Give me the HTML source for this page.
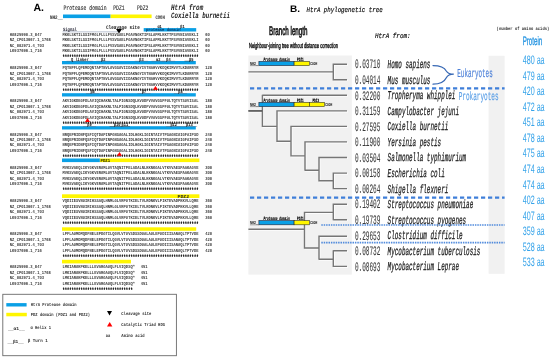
<!DOCTYPE html>
<html lang="en"><head><meta charset="utf-8"><title>HtrA alignment and phylogenetic tree</title><style>
html,body{margin:0;padding:0;background:#fff}
body{width:550px;height:360px;position:relative;overflow:hidden}
#fig{position:absolute;left:0;top:0;width:550px;height:360px;filter:blur(0.35px)}
.t{position:absolute;left:0;top:0;white-space:pre;line-height:1;transform-origin:0 0;display:block;text-rendering:geometricPrecision}
.m{font-family:"Liberation Mono",monospace}
.s{font-family:"Liberation Sans",sans-serif}
.r0{font-family:"Liberation Serif",serif}
.b{font-weight:bold}
.i{font-style:italic}
.r{position:absolute}
.a{position:absolute;overflow:visible}
</style></head><body>
<div id="fig"><svg class="a" style="left:0;top:0" width="550" height="360" viewBox="0 0 550 360"><rect x="63.00" y="14.50" width="47.60" height="3.60" fill="#0aa0e6"/><rect x="110.60" y="14.50" width="41.00" height="3.60" fill="#fff600"/><rect x="62.50" y="31.60" width="55.50" height="0.60" fill="#8f9bb5"/><rect x="143.70" y="28.10" width="52.50" height="3.40" fill="#0aa0e6"/><rect x="62.00" y="61.00" width="133.80" height="3.30" fill="#0aa0e6"/><rect x="66.50" y="60.90" width="26.60" height="0.40" fill="#667"/><rect x="96.50" y="60.90" width="13.40" height="0.40" fill="#667"/><rect x="134.70" y="60.90" width="13.40" height="0.40" fill="#667"/><rect x="151.50" y="60.90" width="13.40" height="0.40" fill="#667"/><rect x="161.80" y="60.90" width="13.40" height="0.40" fill="#667"/><rect x="184.50" y="60.80" width="9.00" height="0.50" fill="#444"/><rect x="62.00" y="93.20" width="133.80" height="3.30" fill="#0aa0e6"/><rect x="85.90" y="93.10" width="13.40" height="0.40" fill="#667"/><rect x="137.30" y="93.10" width="13.40" height="0.40" fill="#667"/><rect x="173.70" y="93.10" width="13.40" height="0.40" fill="#667"/><rect x="62.00" y="126.20" width="133.80" height="3.30" fill="#0aa0e6"/><rect x="82.80" y="126.10" width="13.40" height="0.40" fill="#667"/><rect x="165.90" y="126.10" width="15.60" height="0.40" fill="#667"/><rect x="181.50" y="126.10" width="15.60" height="0.40" fill="#667"/><rect x="109.50" y="126.40" width="20.50" height="0.50" fill="#444"/><rect x="62.00" y="158.50" width="37.90" height="3.60" fill="#0aa0e6"/><rect x="99.90" y="158.50" width="99.50" height="3.60" fill="#fff600"/><rect x="62.00" y="194.30" width="137.40" height="3.70" fill="#fff600"/><rect x="62.00" y="227.30" width="134.20" height="3.50" fill="#fff600"/><rect x="62.00" y="259.80" width="69.00" height="3.60" fill="#fff600"/><rect x="2.8" y="294.3" width="173.6" height="61.4" fill="none" stroke="#6a6a6a" stroke-width="0.9"/><rect x="6.30" y="303.10" width="20.30" height="3.40" fill="#0aa0e6"/><rect x="6.30" y="312.80" width="20.50" height="3.50" fill="#fff600"/><rect x="248.40" y="55.50" width="103.40" height="219.10" fill="#f1f1f1"/><rect x="488.60" y="55.80" width="16.00" height="218.00" fill="#f1f1f1"/></svg>
<span class="t s b" style="font-size:42px;transform:translate(33.50px,2.46px) scale(0.2500,0.2500);color:#000;">A.</span>
<span class="t m" style="font-size:27.2px;transform:translate(63.50px,5.14px) scale(0.1758,0.2500);color:#1a1a1a;-webkit-text-stroke:0.32px #1a1a1a;">Protease domain</span>
<span class="t m" style="font-size:27.2px;transform:translate(113.20px,5.14px) scale(0.1758,0.2500);color:#1a1a1a;-webkit-text-stroke:0.32px #1a1a1a;">PDZ1</span>
<span class="t m" style="font-size:27.2px;transform:translate(137.00px,5.14px) scale(0.1758,0.2500);color:#1a1a1a;-webkit-text-stroke:0.32px #1a1a1a;">PDZ2</span>
<span class="t m b" style="font-size:21.6px;transform:translate(50.00px,15.21px) scale(0.1967,0.2500);color:#222;">NH2__</span>
<span class="t m b" style="font-size:21.6px;transform:translate(155.50px,15.21px) scale(0.1774,0.2500);color:#222;">COOH</span>
<span class="t m b i" style="font-size:32.8px;transform:translate(171.00px,4.07px) scale(0.1819,0.2500);color:#1a1a1a;">HtrA from</span>
<span class="t m b i" style="font-size:32.8px;transform:translate(171.00px,12.07px) scale(0.1763,0.2500);color:#1a1a1a;">Coxiella burnetii</span>
<span class="t m b" style="font-size:21.6px;transform:translate(106.00px,25.21px) scale(0.2006,0.2500);color:#222;">Cleavage site</span>
<span class="t m b" style="font-size:18.4px;transform:translate(9.80px,32.83px) scale(0.2065,0.2500);color:#404040;">HG825990.3_847</span>
<span class="t m b" style="font-size:18.4px;transform:translate(62.40px,32.83px) scale(0.2054,0.2500);color:#404040;">MKKLSKTILSSIFMGLFLLLFVSVSAELPGAVNGKTIPSLAPMLKKTTPSVVNIAVEKLI</span>
<span class="t m b" style="font-size:18.4px;transform:translate(205.30px,32.83px) scale(0.2065,0.2500);color:#404040;">60</span>
<span class="t m b" style="font-size:18.4px;transform:translate(9.80px,37.83px) scale(0.2065,0.2500);color:#404040;">NZ_CP013667.1_1768</span>
<span class="t m b" style="font-size:18.4px;transform:translate(62.40px,37.83px) scale(0.2054,0.2500);color:#404040;">MKKLSKTILSSIFMGLFLLLFVSVSAELPGAVNGKTIPSLAPMLKKTTPSVVNIAVEKLI</span>
<span class="t m b" style="font-size:18.4px;transform:translate(205.30px,37.83px) scale(0.2065,0.2500);color:#404040;">60</span>
<span class="t m b" style="font-size:18.4px;transform:translate(9.80px,43.83px) scale(0.2065,0.2500);color:#404040;">NC_002971.4_703</span>
<span class="t m b" style="font-size:18.4px;transform:translate(62.40px,43.83px) scale(0.2054,0.2500);color:#404040;">MKKLSKTILSSIFMGLFLLLFVSVSAELPGAVNGKTIPSLAPMLKKTTPSVVNIAVEKLI</span>
<span class="t m b" style="font-size:18.4px;transform:translate(205.30px,43.83px) scale(0.2065,0.2500);color:#404040;">60</span>
<span class="t m b" style="font-size:18.4px;transform:translate(9.80px,48.83px) scale(0.2065,0.2500);color:#404040;">LK937696.1_716</span>
<span class="t m b" style="font-size:18.4px;transform:translate(62.40px,48.83px) scale(0.2054,0.2500);color:#404040;">MKKLSKTILSSIFMGLFLLLFVSVSAELPGAVNGKTIPSLAPMLKKTTPSVVNIAVEKLI</span>
<span class="t m b" style="font-size:18.4px;transform:translate(205.30px,48.83px) scale(0.2065,0.2500);color:#404040;">60</span>
<span class="t m b" style="font-size:25.6px;transform:translate(62.40px,54.45px) scale(0.1476,0.2500);color:#000;-webkit-text-stroke:0.88px #000;">************************************************************</span>
<span class="t m b" style="font-size:18.4px;transform:translate(9.80px,65.83px) scale(0.2065,0.2500);color:#404040;">HG825990.3_847</span>
<span class="t m b" style="font-size:18.4px;transform:translate(62.40px,65.83px) scale(0.2054,0.2500);color:#404040;">PQTNPFLQPEMDQNTAPTNVLGVGSGVIIDAKNGYIVTNAHVVKDQKIMVVTLKDGRRYR</span>
<span class="t m b" style="font-size:18.4px;transform:translate(205.30px,65.83px) scale(0.2065,0.2500);color:#404040;">120</span>
<span class="t m b" style="font-size:18.4px;transform:translate(9.80px,71.83px) scale(0.2065,0.2500);color:#404040;">NZ_CP013667.1_1768</span>
<span class="t m b" style="font-size:18.4px;transform:translate(62.40px,71.83px) scale(0.2054,0.2500);color:#404040;">PQTNPFLQPEMDQNTAPTNVLGVGSGVIIDAKNGYIVTNAHVVKDQKIMVVTLKDGRRYR</span>
<span class="t m b" style="font-size:18.4px;transform:translate(205.30px,71.83px) scale(0.2065,0.2500);color:#404040;">120</span>
<span class="t m b" style="font-size:18.4px;transform:translate(9.80px,76.83px) scale(0.2065,0.2500);color:#404040;">NC_002971.4_703</span>
<span class="t m b" style="font-size:18.4px;transform:translate(62.40px,76.83px) scale(0.2054,0.2500);color:#404040;">PQTNPFLQPEMDQNTAPTNVLGVGSGVIIDAKNGYIVTNAHVVKDQKIMVVTLKDGRRYR</span>
<span class="t m b" style="font-size:18.4px;transform:translate(205.30px,76.83px) scale(0.2065,0.2500);color:#404040;">120</span>
<span class="t m b" style="font-size:18.4px;transform:translate(9.80px,82.83px) scale(0.2065,0.2500);color:#404040;">LK937696.1_716</span>
<span class="t m b" style="font-size:18.4px;transform:translate(62.40px,82.83px) scale(0.2054,0.2500);color:#404040;">PQTNPFLQPEMDQNTAPTNVLGVGSGVIIDAKNGYIVTNAHVVKDQKIMVVTLKDGRRYR</span>
<span class="t m b" style="font-size:18.4px;transform:translate(205.30px,82.83px) scale(0.2065,0.2500);color:#404040;">120</span>
<span class="t m b" style="font-size:25.6px;transform:translate(62.40px,88.45px) scale(0.1476,0.2500);color:#000;-webkit-text-stroke:0.88px #000;">************************************************************</span>
<span class="t m b" style="font-size:18.4px;transform:translate(9.80px,98.83px) scale(0.2065,0.2500);color:#404040;">HG825990.3_847</span>
<span class="t m b" style="font-size:18.4px;transform:translate(62.40px,98.83px) scale(0.2054,0.2500);color:#404040;">AKVIGKDEGFDLAVIQIHAKNLTALPIGNSDQLKVGDFVVAVGSPFGLTQTVTSGVISAL</span>
<span class="t m b" style="font-size:18.4px;transform:translate(205.30px,98.83px) scale(0.2065,0.2500);color:#404040;">180</span>
<span class="t m b" style="font-size:18.4px;transform:translate(9.80px,104.83px) scale(0.2065,0.2500);color:#404040;">NZ_CP013667.1_1768</span>
<span class="t m b" style="font-size:18.4px;transform:translate(62.40px,104.83px) scale(0.2054,0.2500);color:#404040;">AKVIGKDEGFDLAVIQIHAKNLTALPIGNSDQLKVGDFVVAVGSPFGLTQTVTSGVISAL</span>
<span class="t m b" style="font-size:18.4px;transform:translate(205.30px,104.83px) scale(0.2065,0.2500);color:#404040;">180</span>
<span class="t m b" style="font-size:18.4px;transform:translate(9.80px,109.83px) scale(0.2065,0.2500);color:#404040;">NC_002971.4_703</span>
<span class="t m b" style="font-size:18.4px;transform:translate(62.40px,109.83px) scale(0.2054,0.2500);color:#404040;">AKVIGKDEGFDLAVIQIHAKNLTALPIGNSDQLKVGDFVVAVGSPFGLTQTVTSGVISAL</span>
<span class="t m b" style="font-size:18.4px;transform:translate(205.30px,109.83px) scale(0.2065,0.2500);color:#404040;">180</span>
<span class="t m b" style="font-size:18.4px;transform:translate(9.80px,115.83px) scale(0.2065,0.2500);color:#404040;">LK937696.1_716</span>
<span class="t m b" style="font-size:18.4px;transform:translate(62.40px,115.83px) scale(0.2054,0.2500);color:#404040;">AKVIGKDEGFDLAVIQIHAKNLTALPIGNSDQLKVGDFVVAVGSPFGLTQTVTSGVISAL</span>
<span class="t m b" style="font-size:18.4px;transform:translate(205.30px,115.83px) scale(0.2065,0.2500);color:#404040;">180</span>
<span class="t m b" style="font-size:25.6px;transform:translate(62.40px,121.45px) scale(0.1476,0.2500);color:#000;-webkit-text-stroke:0.88px #000;">************************************************************</span>
<span class="t m b" style="font-size:18.4px;transform:translate(9.80px,132.83px) scale(0.2065,0.2500);color:#404040;">HG825990.3_847</span>
<span class="t m b" style="font-size:18.4px;transform:translate(62.40px,132.83px) scale(0.2054,0.2500);color:#404040;">NRQEPRIDNFQSFIQTDAPINPGNSGGALIDLHGKLIGINTAIVTPSAGNIGIGFAIPSD</span>
<span class="t m b" style="font-size:18.4px;transform:translate(205.30px,132.83px) scale(0.2065,0.2500);color:#404040;">240</span>
<span class="t m b" style="font-size:18.4px;transform:translate(9.80px,137.83px) scale(0.2065,0.2500);color:#404040;">NZ_CP013667.1_1768</span>
<span class="t m b" style="font-size:18.4px;transform:translate(62.40px,137.83px) scale(0.2054,0.2500);color:#404040;">NRQEPRIDNFQSFIQTDAPINPGNSGGALIDLHGKLIGINTAIVTPSAGNIGIGFAIPSD</span>
<span class="t m b" style="font-size:18.4px;transform:translate(205.30px,137.83px) scale(0.2065,0.2500);color:#404040;">240</span>
<span class="t m b" style="font-size:18.4px;transform:translate(9.80px,142.83px) scale(0.2065,0.2500);color:#404040;">NC_002971.4_703</span>
<span class="t m b" style="font-size:18.4px;transform:translate(62.40px,142.83px) scale(0.2054,0.2500);color:#404040;">NRQEPRIDNFQSFIQTDAPINPGNSGGALIDLHGKLIGINTAIVTPSAGNIGIGFAIPSD</span>
<span class="t m b" style="font-size:18.4px;transform:translate(205.30px,142.83px) scale(0.2065,0.2500);color:#404040;">240</span>
<span class="t m b" style="font-size:18.4px;transform:translate(9.80px,148.83px) scale(0.2065,0.2500);color:#404040;">LK937696.1_716</span>
<span class="t m b" style="font-size:18.4px;transform:translate(62.40px,148.83px) scale(0.2054,0.2500);color:#404040;">NRQEPRIDNFQSFIQTDAPINPGNSGGALIDLHGKLIGINTAIVTPSAGNIGIGFAIPSD</span>
<span class="t m b" style="font-size:18.4px;transform:translate(205.30px,148.83px) scale(0.2065,0.2500);color:#404040;">240</span>
<span class="t m b" style="font-size:25.6px;transform:translate(62.40px,154.45px) scale(0.1476,0.2500);color:#000;-webkit-text-stroke:0.88px #000;">************************************************************</span>
<span class="t m b" style="font-size:18.4px;transform:translate(9.80px,165.83px) scale(0.2065,0.2500);color:#404040;">HG825990.3_847</span>
<span class="t m b" style="font-size:18.4px;transform:translate(62.40px,165.83px) scale(0.2054,0.2500);color:#404040;">MVKSVAEQLIKYGKVERGMLGVTAQNITPELADALNLKKNKGALVTKVVAESPAAKAGVE</span>
<span class="t m b" style="font-size:18.4px;transform:translate(205.30px,165.83px) scale(0.2065,0.2500);color:#404040;">300</span>
<span class="t m b" style="font-size:18.4px;transform:translate(9.80px,170.83px) scale(0.2065,0.2500);color:#404040;">NZ_CP013667.1_1768</span>
<span class="t m b" style="font-size:18.4px;transform:translate(62.40px,170.83px) scale(0.2054,0.2500);color:#404040;">MVKSVAEQLIKYGKVERGMLGVTAQNITPELADALNLKKNKGALVTKVVAESPAAKAGVE</span>
<span class="t m b" style="font-size:18.4px;transform:translate(205.30px,170.83px) scale(0.2065,0.2500);color:#404040;">300</span>
<span class="t m b" style="font-size:18.4px;transform:translate(9.80px,176.83px) scale(0.2065,0.2500);color:#404040;">NC_002971.4_703</span>
<span class="t m b" style="font-size:18.4px;transform:translate(62.40px,176.83px) scale(0.2054,0.2500);color:#404040;">MVKSVAEQLIKYGKVERGMLGVTAQNITPELADALNLKKNKGALVTKVVAESPAAKAGVE</span>
<span class="t m b" style="font-size:18.4px;transform:translate(205.30px,176.83px) scale(0.2065,0.2500);color:#404040;">300</span>
<span class="t m b" style="font-size:18.4px;transform:translate(9.80px,181.83px) scale(0.2065,0.2500);color:#404040;">LK937696.1_716</span>
<span class="t m b" style="font-size:18.4px;transform:translate(62.40px,181.83px) scale(0.2054,0.2500);color:#404040;">MVKSVAEQLIKYGKVERGMLGVTAQNITPELADALNLKKNKGALVTKVVAESPAAKAGVE</span>
<span class="t m b" style="font-size:18.4px;transform:translate(205.30px,181.83px) scale(0.2065,0.2500);color:#404040;">300</span>
<span class="t m b" style="font-size:25.6px;transform:translate(62.40px,187.45px) scale(0.1476,0.2500);color:#000;-webkit-text-stroke:0.88px #000;">************************************************************</span>
<span class="t m b" style="font-size:18.4px;transform:translate(9.80px,198.83px) scale(0.2065,0.2500);color:#404040;">HG825990.3_847</span>
<span class="t m b" style="font-size:18.4px;transform:translate(62.40px,198.83px) scale(0.2054,0.2500);color:#404040;">VQDIIESVNGIRIHSSAQLHNMLGLVRPGTKIELTVLRDNKVLPIKTEVADPKKVLLQRE</span>
<span class="t m b" style="font-size:18.4px;transform:translate(205.30px,198.83px) scale(0.2065,0.2500);color:#404040;">360</span>
<span class="t m b" style="font-size:18.4px;transform:translate(9.80px,204.83px) scale(0.2065,0.2500);color:#404040;">NZ_CP013667.1_1768</span>
<span class="t m b" style="font-size:18.4px;transform:translate(62.40px,204.83px) scale(0.2054,0.2500);color:#404040;">VQDIIESVNGIRIHSSAQLHNMLGLVRPGTKIELTVLRDNKVLPIKTEVADPKKVLLQRE</span>
<span class="t m b" style="font-size:18.4px;transform:translate(205.30px,204.83px) scale(0.2065,0.2500);color:#404040;">360</span>
<span class="t m b" style="font-size:18.4px;transform:translate(9.80px,209.83px) scale(0.2065,0.2500);color:#404040;">NC_002971.4_703</span>
<span class="t m b" style="font-size:18.4px;transform:translate(62.40px,209.83px) scale(0.2054,0.2500);color:#404040;">VQDIIESVNGIRIHSSAQLHNMLGLVRPGTKIELTVLRDNKVLPIKTEVADPKKVLLQRE</span>
<span class="t m b" style="font-size:18.4px;transform:translate(205.30px,209.83px) scale(0.2065,0.2500);color:#404040;">360</span>
<span class="t m b" style="font-size:18.4px;transform:translate(9.80px,215.83px) scale(0.2065,0.2500);color:#404040;">LK937696.1_716</span>
<span class="t m b" style="font-size:18.4px;transform:translate(62.40px,215.83px) scale(0.2054,0.2500);color:#404040;">VQDIIESVNGIRIHSSAQLHNMLGLVRPGTKIELTVLRDNKVLPIKTEVADPKKVLLQRE</span>
<span class="t m b" style="font-size:18.4px;transform:translate(205.30px,215.83px) scale(0.2065,0.2500);color:#404040;">360</span>
<span class="t m b" style="font-size:25.6px;transform:translate(62.40px,221.45px) scale(0.1476,0.2500);color:#000;-webkit-text-stroke:0.88px #000;">************************************************************</span>
<span class="t m b" style="font-size:18.4px;transform:translate(9.80px,231.83px) scale(0.2065,0.2500);color:#404040;">HG825990.3_847</span>
<span class="t m b" style="font-size:18.4px;transform:translate(62.40px,231.83px) scale(0.2054,0.2500);color:#404040;">LPFLAGMDMQDFNELEPDGTILQGVLVTGVSDSSDGALAGLEPGDIIISANGQLTPTVDE</span>
<span class="t m b" style="font-size:18.4px;transform:translate(205.30px,231.83px) scale(0.2065,0.2500);color:#404040;">420</span>
<span class="t m b" style="font-size:18.4px;transform:translate(9.80px,237.83px) scale(0.2065,0.2500);color:#404040;">NZ_CP013667.1_1768</span>
<span class="t m b" style="font-size:18.4px;transform:translate(62.40px,237.83px) scale(0.2054,0.2500);color:#404040;">LPFLAGMDMQDFNELEPDGTILQGVLVTGVSDSSDGALAGLEPGDIIISANGQLTPTVDE</span>
<span class="t m b" style="font-size:18.4px;transform:translate(205.30px,237.83px) scale(0.2065,0.2500);color:#404040;">420</span>
<span class="t m b" style="font-size:18.4px;transform:translate(9.80px,242.83px) scale(0.2065,0.2500);color:#404040;">NC_002971.4_703</span>
<span class="t m b" style="font-size:18.4px;transform:translate(62.40px,242.83px) scale(0.2054,0.2500);color:#404040;">LPFLAGMDMQDFNELEPDGTILQGVLVTGVSDSSDGALAGLEPGDIIISANGQLTPTVDE</span>
<span class="t m b" style="font-size:18.4px;transform:translate(205.30px,242.83px) scale(0.2065,0.2500);color:#404040;">420</span>
<span class="t m b" style="font-size:18.4px;transform:translate(9.80px,248.83px) scale(0.2065,0.2500);color:#404040;">LK937696.1_716</span>
<span class="t m b" style="font-size:18.4px;transform:translate(62.40px,248.83px) scale(0.2054,0.2500);color:#404040;">LPFLAGMDMQDFNELEPDGTILQGVLVTGVSDSSDGALAGLEPGDIIISANGQLTPTVDE</span>
<span class="t m b" style="font-size:18.4px;transform:translate(205.30px,248.83px) scale(0.2065,0.2500);color:#404040;">420</span>
<span class="t m b" style="font-size:25.6px;transform:translate(62.40px,254.45px) scale(0.1476,0.2500);color:#000;-webkit-text-stroke:0.88px #000;">************************************************************</span>
<span class="t m b" style="font-size:18.4px;transform:translate(9.80px,264.83px) scale(0.2065,0.2500);color:#404040;">HG825990.3_847</span>
<span class="t m b" style="font-size:18.4px;transform:translate(62.40px,264.83px) scale(0.2054,0.2500);color:#404040;">LMKIARGKPKELLLEVARGAGQLFLVIQDSQ*</span>
<span class="t m b" style="font-size:18.4px;transform:translate(140.80px,264.83px) scale(0.2065,0.2500);color:#404040;">451</span>
<span class="t m b" style="font-size:18.4px;transform:translate(9.80px,270.83px) scale(0.2065,0.2500);color:#404040;">NZ_CP013667.1_1768</span>
<span class="t m b" style="font-size:18.4px;transform:translate(62.40px,270.83px) scale(0.2054,0.2500);color:#404040;">LMKIARGKPKELLLEVARGAGQLFLVIQDSQ*</span>
<span class="t m b" style="font-size:18.4px;transform:translate(140.80px,270.83px) scale(0.2065,0.2500);color:#404040;">451</span>
<span class="t m b" style="font-size:18.4px;transform:translate(9.80px,275.83px) scale(0.2065,0.2500);color:#404040;">NC_002971.4_703</span>
<span class="t m b" style="font-size:18.4px;transform:translate(62.40px,275.83px) scale(0.2054,0.2500);color:#404040;">LMKIARGKPKELLLEVARGAGQLFLVIQDSQ*</span>
<span class="t m b" style="font-size:18.4px;transform:translate(140.80px,275.83px) scale(0.2065,0.2500);color:#404040;">451</span>
<span class="t m b" style="font-size:18.4px;transform:translate(9.80px,281.83px) scale(0.2065,0.2500);color:#404040;">LK937696.1_716</span>
<span class="t m b" style="font-size:18.4px;transform:translate(62.40px,281.83px) scale(0.2054,0.2500);color:#404040;">LMKIARGKPKELLLEVARGAGQLFLVIQDSQ*</span>
<span class="t m b" style="font-size:18.4px;transform:translate(140.80px,281.83px) scale(0.2065,0.2500);color:#404040;">451</span>
<span class="t m b" style="font-size:25.6px;transform:translate(62.40px,287.45px) scale(0.1476,0.2500);color:#000;-webkit-text-stroke:0.88px #000;">*******************************</span>
<span class="t m b" style="font-size:20px;transform:translate(63.00px,27.52px) scale(0.1916,0.2500);color:#223;">Signal</span>
<span class="t m b" style="font-size:18.4px;transform:translate(157.40px,24.83px) scale(0.1992,0.2500);color:#111;">α1</span>
<span class="t m b" style="font-size:18.4px;transform:translate(180.20px,24.83px) scale(0.1992,0.2500);color:#111;">β1</span>
<span class="t m b" style="font-size:17.6px;transform:translate(146.00px,27.98px) scale(0.2178,0.2500);color:#123a66;">protease domain</span>
<span class="t m b" style="font-size:18.4px;transform:translate(71.00px,57.83px) scale(0.1992,0.2500);color:#111;">Q linker</span>
<span class="t m b" style="font-size:18.4px;transform:translate(101.00px,57.83px) scale(0.1992,0.2500);color:#111;">β2</span>
<span class="t m b" style="font-size:18.4px;transform:translate(139.20px,57.83px) scale(0.1992,0.2500);color:#111;">β3</span>
<span class="t m b" style="font-size:18.4px;transform:translate(156.00px,57.83px) scale(0.1992,0.2500);color:#111;">α2</span>
<span class="t m b" style="font-size:18.4px;transform:translate(166.30px,57.83px) scale(0.1992,0.2500);color:#111;">β4</span>
<span class="t m b" style="font-size:18.4px;transform:translate(189.00px,57.83px) scale(0.1992,0.2500);color:#111;">β5</span>
<span class="t m b" style="font-size:18.4px;transform:translate(90.40px,89.83px) scale(0.1992,0.2500);color:#111;">β6</span>
<span class="t m b" style="font-size:18.4px;transform:translate(141.80px,89.83px) scale(0.1992,0.2500);color:#111;">β7</span>
<span class="t m b" style="font-size:18.4px;transform:translate(178.20px,89.83px) scale(0.1992,0.2500);color:#111;">β8</span>
<span class="t m b" style="font-size:18.4px;transform:translate(87.30px,122.83px) scale(0.1992,0.2500);color:#111;">β9</span>
<span class="t m b" style="font-size:18.4px;transform:translate(113.80px,122.83px) scale(0.1992,0.2500);color:#111;">β10</span>
<span class="t m b" style="font-size:18.4px;transform:translate(121.50px,122.83px) scale(0.1992,0.2500);color:#111;">β11</span>
<span class="t m b" style="font-size:18.4px;transform:translate(170.40px,122.83px) scale(0.1992,0.2500);color:#111;">β12</span>
<span class="t m b" style="font-size:18.4px;transform:translate(186.00px,122.83px) scale(0.1992,0.2500);color:#111;">β13</span>
<span class="t m b" style="font-size:18.4px;transform:translate(100.50px,158.83px) scale(0.2174,0.2500);color:#2a2a00;">PDZ1</span>
<span class="t m b" style="font-size:18.4px;transform:translate(177.50px,194.83px) scale(0.2626,0.2500);color:#222;">PDZ2</span>
<span class="t m b" style="font-size:18.4px;transform:translate(30.80px,302.83px) scale(0.2074,0.2500);color:#333;">HtrA Protease domain</span>
<span class="t m b" style="font-size:18.4px;transform:translate(30.80px,312.83px) scale(0.2065,0.2500);color:#333;">PDZ domain (PDZ1 and PDZ2)</span>
<span class="t m b" style="font-size:18.4px;transform:translate(7.90px,326.83px) scale(0.2536,0.2500);color:#333;">__α1__</span>
<span class="t m b" style="font-size:18.4px;transform:translate(30.40px,325.83px) scale(0.2074,0.2500);color:#333;">α Helix 1</span>
<span class="t m b" style="font-size:18.4px;transform:translate(7.50px,339.83px) scale(0.2445,0.2500);color:#333;">__β1__</span>
<span class="t m b" style="font-size:18.4px;transform:translate(27.80px,338.83px) scale(0.2264,0.2500);color:#333;">β Turn 1</span>
<svg class="a" style="left:106.6px;top:311.4px" width="5" height="4.4" viewBox="0 0 5 4.4"><path d="M0 0H5L2.5 4.4Z" fill="#000"/></svg>
<span class="t m b" style="font-size:18.4px;transform:translate(105.80px,333.83px) scale(0.1992,0.2500);color:#333;">aa</span>
<span class="t m b" style="font-size:18.4px;transform:translate(121.30px,311.83px) scale(0.2101,0.2500);color:#333;">Cleavage site</span>
<span class="t m b" style="font-size:18.4px;transform:translate(121.30px,322.83px) scale(0.2083,0.2500);color:#333;">Catalytic Triad HDS</span>
<span class="t m b" style="font-size:18.4px;transform:translate(121.30px,333.83px) scale(0.2110,0.2500);color:#333;">Amino acid</span>
<span class="t s b" style="font-size:38.4px;transform:translate(290.00px,4.22px) scale(0.2604,0.2500);color:#000;">B.</span>
<span class="t m i" style="font-size:28.8px;transform:translate(306.50px,6.83px) scale(0.2002,0.2500);color:#111;-webkit-text-stroke:0.8px #111;">HtrA phylogenetic tree</span>
<span class="t s" style="font-size:49.6px;transform:translate(269.00px,24.85px) scale(0.1258,0.2500);color:#1a1a1a;-webkit-text-stroke:2.8px #1a1a1a;">Branch length</span>
<span class="t s" style="font-size:28.8px;transform:translate(249.00px,42.26px) scale(0.1407,0.2500);color:#111;-webkit-text-stroke:1.6px #111;">Neighbour-joining tree without distance correction</span>
<span class="t m i" style="font-size:28.8px;transform:translate(375.00px,32.83px) scale(0.2060,0.2500);color:#111;-webkit-text-stroke:0.8px #111;">HtrA from:</span>
<span class="t m b" style="font-size:18.4px;transform:translate(496.60px,26.83px) scale(0.2074,0.2500);color:#333;">(number of amino acids)</span>
<span class="t s" style="font-size:48.8px;transform:translate(522.70px,35.02px) scale(0.1261,0.2500);color:#1b8fe0;-webkit-text-stroke:1.2px #1b8fe0;">Protein</span>
<span class="t m" style="font-size:52px;transform:translate(354.90px,58.39px) scale(0.1167,0.2500);color:#3c3c3c;-webkit-text-stroke:0.4px #3c3c3c;">0.03710</span>
<span class="t m i" style="font-size:48px;transform:translate(387.60px,59.16px) scale(0.1239,0.2500);color:#1a1a1a;-webkit-text-stroke:1.12px #1a1a1a;">Homo sapiens</span>
<span class="t s" style="font-size:48.8px;transform:translate(522.70px,54.02px) scale(0.1467,0.2500);color:#35a3ea;">480 aa</span>
<span class="t m" style="font-size:52px;transform:translate(354.90px,74.39px) scale(0.1167,0.2500);color:#3c3c3c;-webkit-text-stroke:0.4px #3c3c3c;">0.04014</span>
<span class="t m i" style="font-size:48px;transform:translate(387.60px,75.16px) scale(0.1239,0.2500);color:#1a1a1a;-webkit-text-stroke:1.12px #1a1a1a;">Mus musculus</span>
<span class="t s" style="font-size:48.8px;transform:translate(522.70px,70.02px) scale(0.1467,0.2500);color:#35a3ea;">479 aa</span>
<span class="t m" style="font-size:52px;transform:translate(354.90px,90.39px) scale(0.1167,0.2500);color:#3c3c3c;-webkit-text-stroke:0.4px #3c3c3c;">0.32200</span>
<span class="t m i" style="font-size:48px;transform:translate(387.60px,90.16px) scale(0.1239,0.2500);color:#1a1a1a;-webkit-text-stroke:1.12px #1a1a1a;">Tropheryma whipplei</span>
<span class="t s" style="font-size:48.8px;transform:translate(522.70px,85.02px) scale(0.1467,0.2500);color:#35a3ea;">420 aa</span>
<span class="t m" style="font-size:52px;transform:translate(354.90px,105.39px) scale(0.1167,0.2500);color:#3c3c3c;-webkit-text-stroke:0.4px #3c3c3c;">0.31159</span>
<span class="t m i" style="font-size:48px;transform:translate(387.60px,106.16px) scale(0.1239,0.2500);color:#1a1a1a;-webkit-text-stroke:1.12px #1a1a1a;">Campylobacter jejuni</span>
<span class="t s" style="font-size:48.8px;transform:translate(522.70px,101.02px) scale(0.1467,0.2500);color:#35a3ea;">472 aa</span>
<span class="t m" style="font-size:52px;transform:translate(354.90px,121.39px) scale(0.1167,0.2500);color:#3c3c3c;-webkit-text-stroke:0.4px #3c3c3c;">0.27595</span>
<span class="t m i" style="font-size:48px;transform:translate(387.60px,121.16px) scale(0.1239,0.2500);color:#1a1a1a;-webkit-text-stroke:1.12px #1a1a1a;">Coxiella burnetii</span>
<span class="t s" style="font-size:48.8px;transform:translate(522.70px,116.02px) scale(0.1467,0.2500);color:#35a3ea;">451 aa</span>
<span class="t m" style="font-size:52px;transform:translate(354.90px,136.39px) scale(0.1167,0.2500);color:#3c3c3c;-webkit-text-stroke:0.4px #3c3c3c;">0.11900</span>
<span class="t m i" style="font-size:48px;transform:translate(387.60px,137.16px) scale(0.1239,0.2500);color:#1a1a1a;-webkit-text-stroke:1.12px #1a1a1a;">Yersinia pestis</span>
<span class="t s" style="font-size:48.8px;transform:translate(522.70px,132.02px) scale(0.1467,0.2500);color:#35a3ea;">478 aa</span>
<span class="t m" style="font-size:52px;transform:translate(354.90px,152.39px) scale(0.1167,0.2500);color:#3c3c3c;-webkit-text-stroke:0.4px #3c3c3c;">0.03504</span>
<span class="t m i" style="font-size:48px;transform:translate(387.60px,152.16px) scale(0.1239,0.2500);color:#1a1a1a;-webkit-text-stroke:1.12px #1a1a1a;">Salmonella typhimurium</span>
<span class="t s" style="font-size:48.8px;transform:translate(522.70px,147.02px) scale(0.1467,0.2500);color:#35a3ea;">475 aa</span>
<span class="t m" style="font-size:52px;transform:translate(354.90px,167.39px) scale(0.1167,0.2500);color:#3c3c3c;-webkit-text-stroke:0.4px #3c3c3c;">0.00158</span>
<span class="t m i" style="font-size:48px;transform:translate(387.60px,168.16px) scale(0.1239,0.2500);color:#1a1a1a;-webkit-text-stroke:1.12px #1a1a1a;">Escherichia coli</span>
<span class="t s" style="font-size:48.8px;transform:translate(522.70px,163.02px) scale(0.1467,0.2500);color:#35a3ea;">474 aa</span>
<span class="t m" style="font-size:52px;transform:translate(354.90px,183.39px) scale(0.1167,0.2500);color:#3c3c3c;-webkit-text-stroke:0.4px #3c3c3c;">0.00264</span>
<span class="t m i" style="font-size:48px;transform:translate(387.60px,184.16px) scale(0.1239,0.2500);color:#1a1a1a;-webkit-text-stroke:1.12px #1a1a1a;">Shigella flexneri</span>
<span class="t s" style="font-size:48.8px;transform:translate(522.70px,179.02px) scale(0.1467,0.2500);color:#35a3ea;">474 aa</span>
<span class="t m" style="font-size:52px;transform:translate(354.90px,198.39px) scale(0.1167,0.2500);color:#3c3c3c;-webkit-text-stroke:0.4px #3c3c3c;">0.19402</span>
<span class="t m i" style="font-size:48px;transform:translate(387.60px,199.16px) scale(0.1239,0.2500);color:#1a1a1a;-webkit-text-stroke:1.12px #1a1a1a;">Streptococcus pneumoniae</span>
<span class="t s" style="font-size:48.8px;transform:translate(522.70px,194.02px) scale(0.1467,0.2500);color:#35a3ea;">402 aa</span>
<span class="t m" style="font-size:52px;transform:translate(354.90px,214.39px) scale(0.1167,0.2500);color:#3c3c3c;-webkit-text-stroke:0.4px #3c3c3c;">0.19739</span>
<span class="t m i" style="font-size:48px;transform:translate(387.60px,215.16px) scale(0.1239,0.2500);color:#1a1a1a;-webkit-text-stroke:1.12px #1a1a1a;">Streptococcus pyogenes</span>
<span class="t s" style="font-size:48.8px;transform:translate(522.70px,210.02px) scale(0.1467,0.2500);color:#35a3ea;">407 aa</span>
<span class="t m" style="font-size:52px;transform:translate(354.90px,230.39px) scale(0.1167,0.2500);color:#3c3c3c;-webkit-text-stroke:0.4px #3c3c3c;">0.29653</span>
<span class="t m i" style="font-size:48px;transform:translate(387.60px,230.16px) scale(0.1239,0.2500);color:#1a1a1a;-webkit-text-stroke:1.12px #1a1a1a;">Clostridium difficile</span>
<span class="t s" style="font-size:48.8px;transform:translate(522.70px,225.02px) scale(0.1467,0.2500);color:#35a3ea;">359 aa</span>
<span class="t m" style="font-size:52px;transform:translate(354.90px,245.39px) scale(0.1167,0.2500);color:#3c3c3c;-webkit-text-stroke:0.4px #3c3c3c;">0.08732</span>
<span class="t m i" style="font-size:48px;transform:translate(387.60px,246.16px) scale(0.1239,0.2500);color:#1a1a1a;-webkit-text-stroke:1.12px #1a1a1a;">Mycobacterium tuberculosis</span>
<span class="t s" style="font-size:48.8px;transform:translate(522.70px,241.02px) scale(0.1467,0.2500);color:#35a3ea;">528 aa</span>
<span class="t m" style="font-size:52px;transform:translate(354.90px,261.39px) scale(0.1167,0.2500);color:#3c3c3c;-webkit-text-stroke:0.4px #3c3c3c;">0.08693</span>
<span class="t m i" style="font-size:48px;transform:translate(387.60px,261.16px) scale(0.1239,0.2500);color:#1a1a1a;-webkit-text-stroke:1.12px #1a1a1a;">Mycobacterium Leprae</span>
<span class="t s" style="font-size:48.8px;transform:translate(522.70px,256.02px) scale(0.1467,0.2500);color:#35a3ea;">533 aa</span>
<span class="t m" style="font-size:48px;transform:translate(457.30px,68.16px) scale(0.1229,0.2500);color:#4d80d8;-webkit-text-stroke:0.8px #4d80d8;">Eukaryotes</span>
<span class="t m" style="font-size:48px;transform:translate(458.70px,91.16px) scale(0.1257,0.2500);color:#5b9fe6;-webkit-text-stroke:0.8px #5b9fe6;">Prokaryotes</span>
<svg class="a" style="left:0;top:0" width="550" height="360" viewBox="0 0 550 360"><path d="M248.4 71.9H333.6M333.3 63.6V80.4M333.3 64.2H347.0M333.3 79.8H347.0M248.4 110.9H262.4M262.4 94.7V127.1M262.4 95.3H347.0M262.4 126.4H277.0M277.0 110.2V142.0M277.0 110.9H347.0M277.0 141.3H291.0M291.0 125.8V156.6M291.0 126.4H347.0M291.0 155.9H305.0M305.0 141.3V170.8M305.0 141.9H347.0M305.0 170.2H319.0M319.0 156.8V181.5M319.0 157.5H347.0M319.0 180.8H333.3M333.3 172.4V189.3M333.3 173.1H347.0M333.3 188.6H347.0M248.4 229.3H304.5M304.5 211.8V248.7M304.5 212.4H333.3M333.3 203.5V220.3M333.3 204.2H347.0M333.3 219.7H347.0M304.5 248.0H319.0M319.0 235.5V259.8M319.0 236.2H347.0M319.0 259.2H333.3M333.3 250.2V267.0M333.3 250.8H347.0M333.3 266.4H347.0" stroke="#fff" stroke-width="1.3" fill="none" transform="translate(0.9,0.9)" opacity="0.85"/><path d="M248.4 71.9H333.6M333.3 63.6V80.4M333.3 64.2H347.0M333.3 79.8H347.0M248.4 110.9H262.4M262.4 94.7V127.1M262.4 95.3H347.0M262.4 126.4H277.0M277.0 110.2V142.0M277.0 110.9H347.0M277.0 141.3H291.0M291.0 125.8V156.6M291.0 126.4H347.0M291.0 155.9H305.0M305.0 141.3V170.8M305.0 141.9H347.0M305.0 170.2H319.0M319.0 156.8V181.5M319.0 157.5H347.0M319.0 180.8H333.3M333.3 172.4V189.3M333.3 173.1H347.0M333.3 188.6H347.0M248.4 229.3H304.5M304.5 211.8V248.7M304.5 212.4H333.3M333.3 203.5V220.3M333.3 204.2H347.0M333.3 219.7H347.0M304.5 248.0H319.0M319.0 235.5V259.8M319.0 236.2H347.0M319.0 259.2H333.3M333.3 250.2V267.0M333.3 250.8H347.0M333.3 266.4H347.0" stroke="#767676" stroke-width="1.4" fill="none"/><path d="M248.4 110.9H262.4" stroke="#5a5a5a" stroke-width="1.5" fill="none"/><path d="M250 88.3H504.6M250 197.7H504.6" stroke="#3f7fd9" stroke-width="2.3" stroke-dasharray="4.2 2.8" fill="none"/><path d="M321.3 225H504.6M321.3 242.6H504.6" stroke="#3f7fd9" stroke-width="1.7" stroke-dasharray="1.5 0.9" opacity="0.9" fill="none"/><path d="M433 65.6C441 65.6 444.5 67.5 446.3 71C447.8 73.6 450 74.2 453.8 74.2C450 74.2 447.8 75 446.3 77.8C444.5 81.6 441 84.2 433 84.2" stroke="#3768b4" stroke-width="1.25" fill="none" stroke-linecap="round"/></svg>
<span class="t m b" style="font-size:17.6px;transform:translate(250.00px,61.98px) scale(0.1894,0.2500);color:#222;">NH2_</span>
<svg class="a" style="left:0;top:0" width="550" height="360" viewBox="0 0 550 360"><rect x="258.9" y="61.4" width="35.2" height="4.2" fill="#0aa0e6" stroke="#223" stroke-width="0.6"/><rect x="294.1" y="61.4" width="15.3" height="4.2" fill="#fff600" stroke="#332" stroke-width="0.6"/><path d="M250 65.60H259" stroke="#444" stroke-width="0.5"/></svg>
<span class="t m b i" style="font-size:19.2px;transform:translate(263.50px,57.67px) scale(0.1519,0.2500);color:#000;-webkit-text-stroke:0.6px #000;">Protease domain</span>
<span class="t m b" style="font-size:19.2px;transform:translate(297.00px,57.67px) scale(0.1476,0.2500);color:#000;-webkit-text-stroke:0.6px #000;">PDZ1</span>
<span class="t m b" style="font-size:17.6px;transform:translate(310.20px,61.98px) scale(0.1704,0.2500);color:#222;">COOH</span>
<span class="t m b" style="font-size:17.6px;transform:translate(250.00px,102.98px) scale(0.1894,0.2500);color:#222;">NH2_</span>
<svg class="a" style="left:0;top:0" width="550" height="360" viewBox="0 0 550 360"><rect x="258.9" y="102.4" width="35.2" height="4.2" fill="#0aa0e6" stroke="#223" stroke-width="0.6"/><rect x="294.1" y="102.4" width="15.3" height="4.2" fill="#fff600" stroke="#332" stroke-width="0.6"/><rect x="309.4" y="102.4" width="15" height="4.2" fill="#fff600" stroke="#332" stroke-width="0.6"/><path d="M250 106.60H259" stroke="#444" stroke-width="0.5"/></svg>
<span class="t m b i" style="font-size:19.2px;transform:translate(263.50px,98.67px) scale(0.1519,0.2500);color:#000;-webkit-text-stroke:0.6px #000;">Protease domain</span>
<span class="t m b" style="font-size:19.2px;transform:translate(297.00px,98.67px) scale(0.1476,0.2500);color:#000;-webkit-text-stroke:0.6px #000;">PDZ1</span>
<span class="t m b" style="font-size:19.2px;transform:translate(312.40px,98.67px) scale(0.1476,0.2500);color:#000;-webkit-text-stroke:0.6px #000;">PDZ2</span>
<span class="t m b" style="font-size:17.6px;transform:translate(325.20px,102.98px) scale(0.1704,0.2500);color:#222;">COOH</span>
<span class="t m b" style="font-size:17.6px;transform:translate(250.00px,220.98px) scale(0.1894,0.2500);color:#222;">NH2_</span>
<svg class="a" style="left:0;top:0" width="550" height="360" viewBox="0 0 550 360"><rect x="258.9" y="220.6" width="35.2" height="4.2" fill="#0aa0e6" stroke="#223" stroke-width="0.6"/><rect x="294.1" y="220.6" width="15.3" height="4.2" fill="#fff600" stroke="#332" stroke-width="0.6"/><path d="M250 224.80H259" stroke="#444" stroke-width="0.5"/></svg>
<span class="t m b i" style="font-size:19.2px;transform:translate(263.50px,216.67px) scale(0.1519,0.2500);color:#000;-webkit-text-stroke:0.6px #000;">Protease domain</span>
<span class="t m b" style="font-size:19.2px;transform:translate(297.00px,216.67px) scale(0.1476,0.2500);color:#000;-webkit-text-stroke:0.6px #000;">PDZ1</span>
<span class="t m b" style="font-size:17.6px;transform:translate(310.20px,220.98px) scale(0.1704,0.2500);color:#222;">COOH</span>
<svg class="a" style="left:115.6px;top:28.7px" width="6" height="5" viewBox="0 0 6 5"><path d="M0 0H6L3 4.6Z" fill="#000"/></svg>
<svg class="a" style="left:153.20px;top:85.80px" width="5.0" height="3.80" viewBox="0 0 5.0 3.80"><path d="M0 3.80L2.5 0L5.0 3.80Z" fill="#ff0000"/></svg>
<svg class="a" style="left:84.60px;top:118.30px" width="5.0" height="3.90" viewBox="0 0 5.0 3.90"><path d="M0 3.90L2.5 0L5.0 3.90Z" fill="#ff0000"/></svg>
<svg class="a" style="left:117.30px;top:151.50px" width="5.0" height="3.80" viewBox="0 0 5.0 3.80"><path d="M0 3.80L2.5 0L5.0 3.80Z" fill="#ff0000"/></svg>
<svg class="a" style="left:106.90px;top:322.40px" width="5.4" height="4.40" viewBox="0 0 5.4 4.40"><path d="M0 4.40L2.7 0L5.4 4.40Z" fill="#ff0000"/></svg>
</div>
</body></html>
